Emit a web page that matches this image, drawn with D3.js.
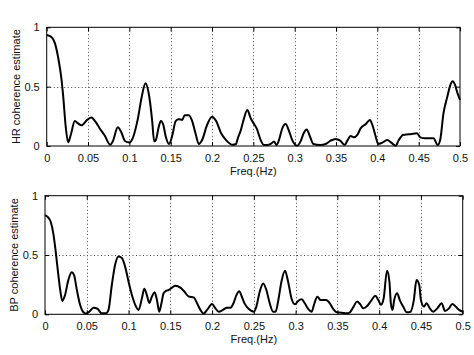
<!DOCTYPE html>
<html>
<head>
<meta charset="utf-8">
<script src="https://cdn.jsdelivr.net/npm/d3@7"></script>
<style>
  html, body { margin: 0; padding: 0; background: #fff; }
  svg { display: block; }
  text { font-family: "Liberation Sans", Arial, Helvetica, sans-serif; }
</style>
</head>
<body>
<svg id="chart" width="474" height="355"></svg>
<script>
// ---- data ----
const xTicks = [0, 0.05, 0.1, 0.15, 0.2, 0.25, 0.3, 0.35, 0.4, 0.45, 0.5];
const xTickLabels = ["0", "0.05", "0.1", "0.15", "0.2", "0.25", "0.3", "0.35", "0.4", "0.45", "0.5"];
const yTicks = [0, 0.5, 1];
const yTickLabels = ["0", "0.5", "1"];
const xLabel = "Freq.(Hz)";
const hrLabel = "HR coherence estimate";
const bpLabel = "BP coherence estimate";

const hrFreq = [0, 0.006, 0.010, 0.014, 0.018, 0.020, 0.023, 0.026, 0.029, 0.034, 0.038, 0.042, 0.049, 0.054, 0.059, 0.064, 0.070, 0.077, 0.080, 0.086, 0.090, 0.095, 0.100, 0.104, 0.110, 0.115, 0.1195, 0.1235, 0.1275, 0.130, 0.132, 0.1355, 0.138, 0.141, 0.144, 0.148, 0.152, 0.156, 0.160, 0.164, 0.167, 0.172, 0.176, 0.180, 0.184, 0.188, 0.194, 0.200, 0.205, 0.211, 0.217, 0.225, 0.229, 0.231, 0.2347, 0.2387, 0.2427, 0.2468, 0.2508, 0.254, 0.2589, 0.263, 0.267, 0.271, 0.275, 0.278, 0.281, 0.285, 0.289, 0.293, 0.297, 0.303, 0.307, 0.311, 0.3145, 0.3185, 0.3226, 0.331, 0.3375, 0.3435, 0.3496, 0.355, 0.3605, 0.3637, 0.3677, 0.3718, 0.3758, 0.3798, 0.386, 0.391, 0.394, 0.398, 0.401, 0.406, 0.412, 0.417, 0.422, 0.426, 0.431, 0.438, 0.448, 0.452, 0.458, 0.468, 0.473, 0.476, 0.480, 0.4847, 0.488, 0.4911, 0.494, 0.497, 0.500];
const hrCoh = [0.935, 0.916, 0.865, 0.74, 0.556, 0.416, 0.163, 0.03, 0.09, 0.21, 0.19, 0.174, 0.22, 0.24, 0.205, 0.15, 0.09, 0.01, 0.04, 0.157, 0.12, 0.04, 0.03, 0.065, 0.22, 0.415, 0.528, 0.44, 0.22, 0.04, 0.05, 0.16, 0.21, 0.18, 0.08, 0.017, 0.09, 0.21, 0.225, 0.22, 0.26, 0.26, 0.21, 0.107, 0.017, 0.05, 0.177, 0.247, 0.21, 0.107, 0.05, 0.01, 0.017, 0.06, 0.13, 0.233, 0.303, 0.233, 0.185, 0.149, 0.05, 0.008, 0.008, 0.017, 0.037, 0.008, 0.05, 0.149, 0.185, 0.13, 0.05, 0.003, 0.037, 0.11, 0.14, 0.08, 0.017, 0.008, 0.017, 0.045, 0.06, 0.045, 0.008, 0.045, 0.084, 0.073, 0.093, 0.149, 0.185, 0.219, 0.177, 0.08, 0.017, 0.028, 0.05, 0.028, 0.003, 0.05, 0.093, 0.098, 0.107, 0.073, 0.065, 0.065, 0.008, 0.05, 0.275, 0.416, 0.506, 0.545, 0.514, 0.444, 0.388];

const bpFreq = [0, 0.004, 0.0068, 0.010, 0.0128, 0.016, 0.0188, 0.0208, 0.024, 0.028, 0.032, 0.0348, 0.038, 0.042, 0.046, 0.049, 0.053, 0.058, 0.063, 0.068, 0.073, 0.076, 0.080, 0.084, 0.088, 0.092, 0.096, 0.100, 0.104, 0.108, 0.112, 0.116, 0.1188, 0.122, 0.1248, 0.128, 0.1312, 0.134, 0.1368, 0.139, 0.142, 0.1448, 0.148, 0.152, 0.156, 0.162, 0.167, 0.172, 0.178, 0.182, 0.186, 0.190, 0.194, 0.200, 0.204, 0.208, 0.213, 0.218, 0.222, 0.226, 0.229, 0.2325, 0.2355, 0.239, 0.244, 0.250, 0.253, 0.257, 0.2612, 0.265, 0.269, 0.273, 0.276, 0.279, 0.283, 0.2873, 0.291, 0.295, 0.2993, 0.303, 0.3073, 0.311, 0.315, 0.319, 0.3225, 0.326, 0.330, 0.3365, 0.341, 0.345, 0.349, 0.355, 0.361, 0.365, 0.3694, 0.3734, 0.3774, 0.381, 0.385, 0.391, 0.3954, 0.399, 0.4022, 0.4054, 0.4094, 0.4123, 0.414, 0.416, 0.418, 0.4215, 0.4247, 0.4287, 0.433, 0.4375, 0.4415, 0.4447, 0.448, 0.450, 0.4535, 0.4567, 0.4607, 0.4647, 0.4696, 0.4748, 0.4788, 0.4836, 0.4876, 0.4916, 0.4956, 0.500];
const bpCoh = [0.837, 0.815, 0.78, 0.68, 0.53, 0.33, 0.177, 0.112, 0.163, 0.29, 0.354, 0.33, 0.21, 0.08, 0.017, 0.006, 0.022, 0.056, 0.045, 0.008, 0.008, 0.037, 0.247, 0.42, 0.487, 0.475, 0.40, 0.275, 0.163, 0.08, 0.037, 0.135, 0.216, 0.16, 0.096, 0.15, 0.185, 0.12, 0.022, 0.08, 0.177, 0.197, 0.205, 0.225, 0.24, 0.225, 0.19, 0.15, 0.143, 0.093, 0.037, 0.006, 0.037, 0.087, 0.05, 0.022, 0.037, 0.056, 0.056, 0.10, 0.16, 0.195, 0.15, 0.09, 0.045, 0.022, 0.065, 0.19, 0.26, 0.205, 0.093, 0.022, 0.022, 0.107, 0.275, 0.368, 0.275, 0.135, 0.084, 0.112, 0.126, 0.093, 0.045, 0.022, 0.093, 0.149, 0.12, 0.12, 0.093, 0.045, 0.017, 0.014, 0.008, 0.017, 0.065, 0.107, 0.084, 0.05, 0.065, 0.12, 0.157, 0.12, 0.08, 0.135, 0.368, 0.275, 0.093, 0.037, 0.12, 0.177, 0.12, 0.065, 0.017, 0.022, 0.12, 0.289, 0.247, 0.12, 0.065, 0.093, 0.05, 0.022, 0.05, 0.093, 0.028, 0.05, 0.087, 0.065, 0.037, 0.022];

// ---- layout ----
const panels = [
  { freq: hrFreq, coh: hrCoh, ylabel: hrLabel, left: 46.7, right: 460, top: 27.3, bottom: 146 },
  { freq: bpFreq, coh: bpCoh, ylabel: bpLabel, left: 45, right: 462.7, top: 195.7, bottom: 314.3 }
];

const svg = d3.select("#chart");
svg.append("rect").attr("width", 474).attr("height", 355).attr("fill", "#fff");

panels.forEach(p => {
  const x = d3.scaleLinear().domain([0, 0.5]).range([p.left, p.right]);
  const y = d3.scaleLinear().domain([0, 1]).range([p.bottom, p.top]);
  const g = svg.append("g");

  // grid
  g.selectAll("line.vgrid").data(xTicks.slice(1, -1)).enter().append("line")
    .attr("x1", d => Math.round(x(d)) + 0.5).attr("x2", d => Math.round(x(d)) + 0.5)
    .attr("y1", p.top).attr("y2", p.bottom)
    .attr("stroke", "#444").attr("stroke-width", 1).attr("stroke-dasharray", "1,2.5");
  g.selectAll("line.hgrid").data(yTicks.slice(1, -1)).enter().append("line")
    .attr("y1", d => Math.round(y(d)) + 0.5).attr("y2", d => Math.round(y(d)) + 0.5)
    .attr("x1", p.left).attr("x2", p.right)
    .attr("stroke", "#444").attr("stroke-width", 1).attr("stroke-dasharray", "1,2.5");

  // axes (MATLAB-style inward ticks)
  const xAxis = d3.axisBottom(x).tickValues(xTicks).tickFormat((d, i) => xTickLabels[i])
    .tickSizeInner(-4).tickSizeOuter(0).tickPadding(8);
  g.append("g").attr("transform", `translate(0,${p.bottom})`).call(xAxis);
  const yAxis = d3.axisLeft(y).tickValues(yTicks).tickFormat((d, i) => yTickLabels[i])
    .tickSizeInner(-4).tickSizeOuter(0).tickPadding(7);
  g.append("g").attr("transform", `translate(${p.left},0)`).call(yAxis);
  const xAxisTop = d3.axisTop(x).tickValues(xTicks).tickFormat("").tickSizeInner(-4).tickSizeOuter(0);
  g.append("g").attr("transform", `translate(0,${p.top})`).call(xAxisTop);
  const yAxisRight = d3.axisRight(y).tickValues(yTicks).tickFormat("").tickSizeInner(-4).tickSizeOuter(0);
  g.append("g").attr("transform", `translate(${p.right},0)`).call(yAxisRight);

  g.selectAll(".domain").remove();
  g.selectAll(".tick line").attr("stroke", "#000");
  g.selectAll(".tick text").attr("font-size", 11).attr("fill", "#111")
    .attr("font-family", '"Liberation Sans", Arial, sans-serif');

  // box
  g.append("rect").attr("x", p.left).attr("y", p.top)
    .attr("width", p.right - p.left).attr("height", p.bottom - p.top)
    .attr("fill", "none").attr("stroke", "#000").attr("stroke-width", 1);

  // line
  const pts = p.freq.map((f, i) => [f, p.coh[i]]);
  const line = d3.line().x(d => x(d[0])).y(d => y(d[1])).curve(d3.curveMonotoneX);
  g.append("path").datum(pts).attr("d", line)
    .attr("fill", "none").attr("stroke", "#000").attr("stroke-width", 2)
    .attr("stroke-linejoin", "round");

  // labels
  g.append("text").attr("x", (p.left + p.right) / 2).attr("y", p.bottom + 24.5)
    .attr("text-anchor", "middle").attr("dominant-baseline", "central")
    .attr("font-size", 11).attr("fill", "#111").text(xLabel);
  const cy = (p.top + p.bottom) / 2;
  g.append("text").attr("transform", `translate(${p.left - 31},${cy}) rotate(-90)`)
    .attr("text-anchor", "middle").attr("dominant-baseline", "central")
    .attr("font-size", 11).attr("fill", "#111").text(p.ylabel);
});
</script>
</body>
</html>
